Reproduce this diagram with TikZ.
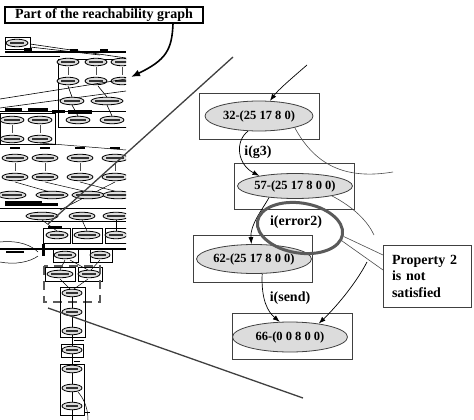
\documentclass[tikz,border=0pt]{standalone}
\usepackage{fontspec}
\setmainfont{Liberation Serif}
\usetikzlibrary{shapes.geometric,arrows.meta}
\definecolor{boxgray}{HTML}{404040}
\definecolor{ellfill}{HTML}{DCDCDC}
\definecolor{ringgray}{HTML}{5A5A5A}
% tiny state of the thumbnail graph: centre, half width
\def\miniell(#1,#2)(#3){\draw[line width=0.8pt, fill=ellfill] (#1,#2) ellipse (#3 and 3.8); \draw[line width=2.2pt, black!80] (#1-#3+4,#2) -- (#1+#3-4,#2);}

\begin{document}
\begin{tikzpicture}[x=1pt, y=-1pt,
	statebox/.style={draw=boxgray, line width=1pt, minimum width=120pt, minimum height=46pt, inner sep=0pt},
	state/.style={ellipse, draw=boxgray, fill=ellfill, line width=0.8pt, inner sep=0pt, font=\fontsize{12.5}{14}\selectfont\bfseries},
	trans/.style={font=\fontsize{14}{16}\selectfont\bfseries, inner sep=0pt},
	edge/.style={line width=0.7pt, -{Latex[length=7pt,width=5pt]}},
	thin/.style={line width=0.6pt, black!70}]
		%%%%% START %%%%%
		\useasboundingbox (0,0) rectangle (474,420);
		
		% thumbnail of the reachability graph
		\begin{scope}
		\clip (0,30) rectangle (126,420);
		\draw[line width=0.5pt] (5,37) rectangle (30,49);
		\miniell(17,43)(11)
		\draw[line width=0.6pt] (30,44) -- (126,58);
		\draw[line width=0.6pt] (30,47) -- (100,55);
		\draw[line width=2pt] (5,52) -- (126,52);
		\draw[line width=0.5pt] (0,56) -- (60,56);
		\fill (24,48) rectangle (32,51);
		\fill (70,49) rectangle (78,52);
		\fill (100,49) rectangle (108,52);
		\draw[line width=0.5pt] (58,59) rectangle (127,127);
		\foreach \x in {68,96,122} {\miniell(\x,62)(11) \miniell(\x,81)(11) \draw[thin] (\x,75) -- (\x,67);}
		\draw[line width=0.6pt] (0,99) -- (126,79);
		\draw[line width=0.6pt] (0,108) -- (126,91);
		\draw[line width=0.6pt] (68,86) -- (72,97);
		\draw[line width=0.6pt] (98,86) -- (107,97);
		\miniell(72,101)(12)
		\miniell(107,101)(16)
		\draw[line width=0.6pt] (0,111) -- (126,111);
		\fill (5,108) rectangle (22,112);
		\fill (28,108) rectangle (48,112);
		\fill (52,110) rectangle (65,113);
		\fill (68,110) rectangle (92,114);
		\draw[line width=0.6pt] (72,105) -- (78,116);
		\draw[line width=0.6pt] (107,105) -- (112,116);
		\miniell(78,120)(12)
		\miniell(112,120)(12)
		\draw[line width=0.5pt] (0,113) rectangle (55,144);
		\foreach \x in {12,40} {\miniell(\x,120)(12) \miniell(\x,139)(12) \draw[thin] (\x,133) -- (\x,125);}
		
		\draw[line width=0.5pt] (40,143) -- (126,150);
		\foreach \x in {15,45,80,115} {\draw[line width=1.2pt] (\x-5,148) -- (\x+5,148); \miniell(\x,158)(13) \miniell(\x,177)(13) \draw[thin] (\x,171) -- (\x,163);}
		\draw[line width=0.5pt] (15,182) -- (50,192);
		\draw[line width=0.5pt] (45,182) -- (88,192);
		\draw[line width=0.5pt] (80,182) -- (118,192);
		\draw[line width=0.5pt] (115,182) -- (60,210);
		\miniell(12,195)(14)
		\miniell(52,195)(16)
		\miniell(88,195)(16)
		\miniell(118,195)(15)
		\fill (5,201) rectangle (42,206);
		\fill (42,203) rectangle (58,206);
		\draw[line width=0.5pt] (0,208) -- (126,208);
		\draw[line width=0.5pt] (0,221) -- (126,221);
		\miniell(42,216)(16)
		\miniell(82,216)(13)
		\miniell(116,216)(13)
		\draw[line width=0.5pt] (42,220) -- (57,231);
		\draw[line width=0.5pt] (82,220) -- (87,231);
		\draw[line width=0.5pt] (116,220) -- (116,231);
		\draw[line width=0.5pt] (43,228) rectangle (70,243);
		\draw[line width=0.5pt] (72,228) rectangle (102,243);
		\draw[line width=0.5pt] (105,228) rectangle (127,243);
		\fill (48,226) rectangle (62,229);
		\miniell(57,235)(11)
		\miniell(87,235)(13)
		\miniell(116,235)(11)
		\draw[line width=1.5pt] (0,249) -- (126,249);
		\fill (42,244) rectangle (45,256);
		\draw[line width=0.5pt] (0,242) .. controls (20,240) and (32,246) .. (38,252);
		\draw[line width=0.5pt] (0,262) .. controls (15,265) and (30,262) .. (38,256);
		\draw[line width=1.2pt] (6,252) -- (24,252);
		
		\draw[line width=0.5pt] (53,248) rectangle (78,262);
		\draw[line width=0.5pt] (90,248) rectangle (112,262);
		\miniell(65,255)(11)
		\miniell(100,255)(10)
		\draw[line width=0.5pt] (65,260) -- (60,270);
		\draw[line width=0.5pt] (70,260) -- (88,270);
		\draw[line width=0.5pt] (100,260) -- (91,270);
		\draw[line width=0.5pt] (45,267) rectangle (75,281);
		\draw[line width=0.5pt] (78,267) rectangle (102,281);
		\miniell(60,274)(13)
		\miniell(89,274)(11)
		\draw[line width=0.5pt] (60,279) -- (70,289);
		\draw[line width=0.5pt] (88,279) -- (74,289);
		\draw[line width=2pt, ringgray, dash pattern=on 9pt off 6pt] (44,266) rectangle (100,302);
		\draw[line width=0.5pt] (60,287) rectangle (85,337);
		\draw[line width=0.5pt] (61,344) rectangle (83,357);
		\draw[line width=0.5pt] (60,364) rectangle (84,415);
		\draw[line width=0.5pt] (72,293) -- (72,420);
		\foreach \y in {293,312,331,350,369,388,406} {\miniell(72,\y)(10)}
		\draw[line width=1pt] (74,340) -- (84,340);
		\draw[line width=1pt] (74,361) -- (80,361);
		\draw[line width=0.5pt] (78,392) .. controls (85,400) and (88,410) .. (88,420);
		\draw[line width=1pt] (84,412) -- (90,412);
		\end{scope}
		
		% title and its arrow
		\node[draw, line width=1.2pt, minimum width=198pt, minimum height=16pt, inner sep=0pt, font=\fontsize{14}{16}\selectfont\bfseries] (title) at (104,15) {Part of the reachability graph};
		\coordinate (thumbtip) at (131,77);
		\draw[line width=1.6pt, -{Latex[length=9pt,width=7pt]}] ([xshift=69pt]title.south) .. controls (172,50) and (166,60) .. (thumbtip);
		
		% zoom lines
		\draw[line width=1.3pt, boxgray] (233,57) -- (48,224);
		\draw[line width=1.3pt, boxgray] (48,308) -- (303,398);
		
		% zoomed part
		\node[statebox] (b32) at (259,116) {};
		\node[state, minimum width=108pt, minimum height=30pt] (s32) at (259,116) {32-(25 17 8 0)};
		\node[statebox] (b57) at (294,186) {};
		\node[state, minimum width=115pt, minimum height=25pt] (s57) at (295,186) {57-(25 17 8 0 0)};
		\node[statebox, minimum width=119pt, minimum height=47pt] (b62) at (252.5,258.5) {};
		\node[state, minimum width=112pt, minimum height=29pt] (s62) at (254,259) {62-(25 17 8 0 0)};
		\node[statebox] (b66) at (292,336) {};
		\node[state, minimum width=115pt, minimum height=30pt] (s66) at (290,337) {66-(0 0 8 0 0)};
		
		\coordinate (in32) at (307,65);
		\coordinate (out32) at (393,172);
		\coordinate (out57) at (374,235);
		\coordinate (in66) at (367,262);
		\draw[edge] (in32) .. controls (292,78) and (278,90) .. (s32.54);
		\draw[edge] (s32.-126) .. controls (234,142) and (238,165) .. (s57.164);
		\draw[thin] (s32.-18) .. controls (315,165) and (345,180) .. (out32);
		\draw[thin] (s57.-15) .. controls (355,208) and (368,222) .. (out57);
		\draw[edge] (s57.-156) .. controls (262,210) and (250,225) .. (s62.100);
		\draw[edge] (s62.-61) .. controls (261,300) and (268,312) .. (s66.124);
		\draw[edge] (in66) .. controls (355,285) and (335,308) .. (s66.25);
		
		\node[trans] (lg3) at (258,152) {i(g3)};
		\node[trans] (lerr) at (296,222) {i(error2)};
		\node[trans] (lsend) at (290,298) {i(send)};
		
		% highlight and comment
		\node[ellipse, draw=ringgray, line width=3pt, minimum width=86pt, minimum height=50pt, rotate=-9] (ring) at (300,228) {};
		\node[draw=boxgray, line width=1pt, minimum width=88pt, minimum height=62pt, text width=70pt, align=left, inner sep=0pt, font=\fontsize{14}{16.5}\selectfont\bfseries] (prop) at (427,276) {Property 2\\is not\\satisfied};
		\coordinate (ca) at (383,255);
		\coordinate (cb) at (383,270);
		\draw[thin] (ring.-2) -- (ca);
		\draw[thin] (ring.-8) -- (cb);
		%%%%% END %%%%%
	\end{tikzpicture}
\end{document}
